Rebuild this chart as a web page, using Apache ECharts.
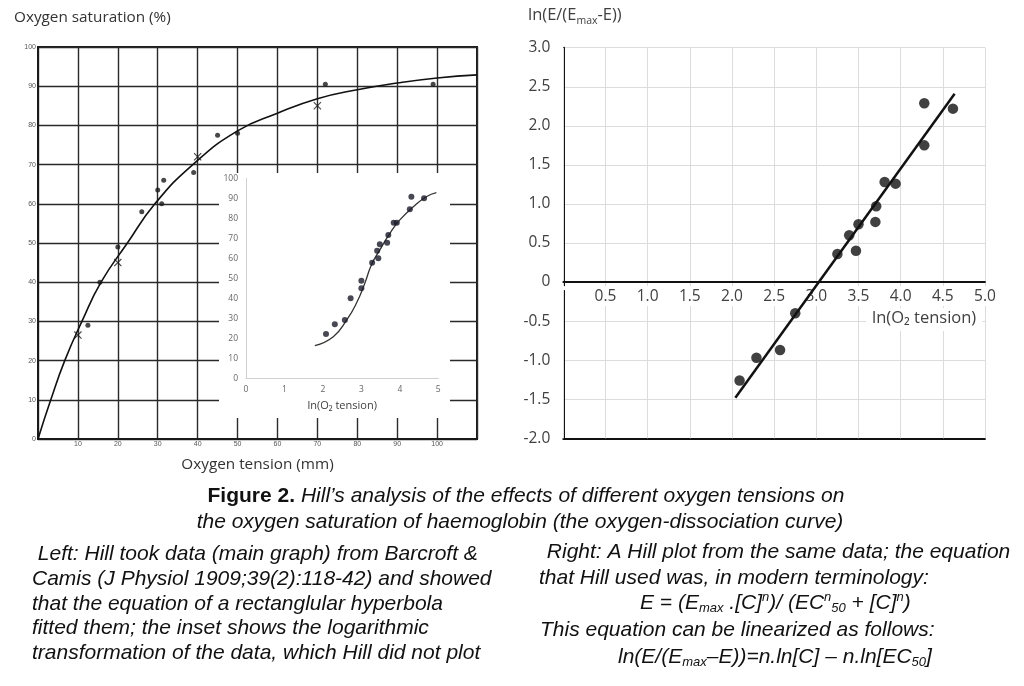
<!DOCTYPE html>
<html><head><meta charset="utf-8">
<script src="https://cdn.jsdelivr.net/npm/echarts@6/dist/echarts.min.js"></script>
<style>html,body{margin:0;padding:0;background:#fff}#c{width:1024px;height:686px}</style>
</head><body><div id="c"></div><script>
// ---- Left main graph (Barcroft & Camis data) ----
const mainDotX=[12.5,15.5,20,26,30,31,31.5,39,45,50,72,99];
const mainDotY=[29,40,49,58,63.5,60,66,68,77.5,78,90.5,90.5];
const mainCrossX=[10,20,40,70];
const mainCrossY=[26.5,45,72,85];
const curveX=[0,3.2,6.7,11,15.8,22.4,29.3,38.8,50,60,70,80,90,100,110];
const curveY=[0,10,20,30,40,50,60,70,78.6,83.1,86.8,89.1,90.8,92.1,92.9];
// ---- Inset (log transform) ----
const insetX=[2.08,2.31,2.57,2.72,3.0,3.0,3.28,3.44,3.41,3.48,3.67,3.70,3.84,3.92,4.26,4.30,4.63];
const insetY=[22.2,27,29.2,40,45,48.8,57.8,60,63.8,67,67.8,71.7,77.8,77.8,84.5,90.8,90];
const insetCurveX=[1.79,2.27,2.62,2.87,3.09,3.26,3.48,3.74,4.0,4.35,4.69,4.95];
const insetCurveY=[16.3,20.8,29.2,37.5,47.5,56.7,64.2,72.5,79.2,85.8,90.8,92.8];
// ---- Right Hill plot ----
const hillX=[2.09,2.29,2.57,2.75,3.25,3.39,3.47,3.50,3.70,3.71,3.81,3.94,4.28,4.28,4.62];
const hillY=[-1.26,-0.97,-0.87,-0.40,0.36,0.60,0.40,0.74,0.77,0.97,1.28,1.26,1.75,2.29,2.22];
const hillLineX=[2.04,4.64];
const hillLineY=[-1.48,2.41];
// ---- Texts ----
const mainYTitle='Oxygen saturation (%)';
const mainXTitle='Oxygen tension (mm)';
const lnTitle='ln(O\u2082 tension)';
const hillYTitle='ln(E/(E{sub|max}-E))';
const captionLines=['{b|Figure 2.} Hill\u2019s analysis of the effects of different oxygen tensions on','the oxygen saturation of haemoglobin (the oxygen-dissociation curve)'];
const leftLines=[' Left: Hill took data (main graph) from Barcroft &','Camis (J Physiol 1909;39(2):118-42) and showed','that the equation of a rectanglular hyperbola','fitted them; the inset shows the logarithmic','transformation of the data, which Hill did not plot'];
const rightLines=[' Right: A Hill plot from the same data; the equation','that Hill used was, in modern terminology:','E = (E{sub|max} .[C]{sup|n})/ (EC{sup|n}{sub|50} + [C]{sup|n})','This equation can be linearized as follows:','ln(E/(E{sub|max}\u2013E))=n.ln[C] \u2013 n.ln[EC{sub|50}]'];

const zip=(a,b)=>a.map((v,i)=>[v,b[i]]);
const CF='"Open Sans", sans-serif';
const AF='"Liberation Sans", Arial, sans-serif';
const crossPath='path://M0,1L1,0L5,4L9,0L10,1L6,5L10,9L9,10L5,6L1,10L0,9L4,5Z';

const chart=echarts.init(document.getElementById('c'),null,{renderer:'canvas'});
const capStyle={fontFamily:AF,fontStyle:'italic',fontSize:21,fill:'#111'};
const subRich={sub:{fontSize:13,verticalAlign:'bottom',fontFamily:AF,fontStyle:'italic',padding:[11,0,0,0]},sup:{fontSize:13,verticalAlign:'top',fontFamily:AF,fontStyle:'italic',padding:[0,0,9,0]}};
const graphics=[
 {type:'rect',z:1,shape:{x:219,y:173,width:231,height:245},style:{fill:'#fff'}},
 {type:'text',left:14,top:10,style:{text:mainYTitle,fontFamily:CF,fontSize:15.3,fill:'#333'}},
 {type:'text',left:528,top:7,style:{text:hillYTitle,fontFamily:CF,fontSize:16.5,fill:'#404040',rich:{sub:{fontSize:10.5,fontFamily:CF,color:'#404040',verticalAlign:'bottom',padding:[11,0,0,0]}}}},
 {type:'text',z:5,left:866,top:308,style:{text:lnTitle,fontFamily:CF,fontSize:16.5,fill:'#404040',backgroundColor:'#fff',padding:[2,6,4,6]}},
];
const capX=[526,520], capY=[496,522];
captionLines.forEach((t,i)=>graphics.push({type:'text',x:capX[i],y:capY[i],style:Object.assign({},capStyle,{text:t,align:'center',verticalAlign:'middle',rich:{b:{fontFamily:AF,fontWeight:'bold',fontStyle:'normal',fontSize:21}}})}));
const leftY=[554,579,604,628,653];
leftLines.forEach((t,i)=>graphics.push({type:'text',x:32,y:leftY[i],style:Object.assign({},capStyle,{text:t,verticalAlign:'middle'})}));
const rightX=[541,539,640,540,618];
const rightY=[552,578,603,630,657];
rightLines.forEach((t,i)=>graphics.push({type:'text',x:rightX[i],y:rightY[i],style:Object.assign({},capStyle,{text:t,verticalAlign:'middle',rich:subRich})}));

const lightAxis={show:true,lineStyle:{color:'#d0d0d0',width:1}};
const option={
 animation:false,
 backgroundColor:'#fff',
 grid:[
  {left:38,top:47,width:439,height:392,show:true,borderColor:'#1a1a1a',borderWidth:2,backgroundColor:'transparent'},
  {left:246,top:178.3,width:192.3,height:200},
  {left:563.3,top:47.7,width:421.7,height:390.6}
 ],
 xAxis:[
  {gridIndex:0,type:'value',min:0,max:110,interval:10,
   axisLine:{show:true,lineStyle:{color:'#1a1a1a',width:2}},axisTick:{show:false},
   splitLine:{show:true,lineStyle:{color:'#2a2a2a',width:1.4}},
   axisLabel:{fontSize:7,color:'#555',margin:2,formatter:v=>(v===0||v===110)?'':String(v)},
   name:mainXTitle,nameLocation:'middle',nameGap:18,nameTextStyle:{fontFamily:CF,fontSize:15.3,color:'#333'}},
  {gridIndex:1,type:'value',min:0,max:5,interval:1,z:3,
   axisLine:lightAxis,axisTick:{show:false},splitLine:{show:false},
   axisLabel:{fontSize:8.5,color:'#666',margin:7,fontFamily:CF},
   name:lnTitle,nameLocation:'middle',nameGap:22,nameTextStyle:{fontFamily:CF,fontSize:11,color:'#404040'}},
  {gridIndex:2,type:'value',min:0,max:5,interval:0.5,position:'bottom',offset:-156.2,z:3,
   axisLine:{show:true,onZero:false,lineStyle:{color:'#111',width:1.8}},axisTick:{show:false},
   splitLine:{show:true,lineStyle:{color:'#dcdcdc',width:1}},
   axisLabel:{fontSize:15.5,color:'#404040',fontFamily:CF,margin:4,backgroundColor:'#fff',padding:[2,3,2,3],
     formatter:v=>v===0?'':v.toFixed(1)}},
  {gridIndex:2,type:'value',min:0,max:5,interval:0.5,position:'bottom',z:2,
   axisLine:{show:true,onZero:false,lineStyle:{color:'#111',width:2}},axisTick:{show:false},
   splitLine:{show:false},axisLabel:{show:false}}
 ],
 yAxis:[
  {gridIndex:0,type:'value',min:0,max:100,interval:10,
   axisLine:{show:true,lineStyle:{color:'#1a1a1a',width:2}},axisTick:{show:false},
   splitLine:{show:true,lineStyle:{color:'#2a2a2a',width:1.4}},
   axisLabel:{fontSize:7,color:'#555',margin:2}},
  {gridIndex:1,type:'value',min:0,max:100,interval:10,z:3,
   axisLine:lightAxis,axisTick:{show:false},splitLine:{show:false},
   axisLabel:{fontSize:8.5,color:'#666',margin:8,fontFamily:CF}},
  {gridIndex:2,type:'value',min:-2,max:3,interval:0.5,
   axisLine:{show:true,onZero:false,lineStyle:{color:'#111',width:2}},axisTick:{show:false},
   splitLine:{show:true,lineStyle:{color:'#dcdcdc',width:1}},
   axisLabel:{fontSize:15.5,color:'#404040',fontFamily:CF,margin:13,formatter:v=>v===0?'0':v.toFixed(1)}}
 ],
 series:[
  {type:'line',xAxisIndex:0,yAxisIndex:0,data:zip(curveX,curveY),smooth:0.5,showSymbol:false,lineStyle:{color:'#111',width:1.6}},
  {type:'scatter',xAxisIndex:0,yAxisIndex:0,data:zip(mainDotX,mainDotY),symbol:'circle',symbolSize:5,itemStyle:{color:'#1a1a1a'}},
  {type:'scatter',xAxisIndex:0,yAxisIndex:0,data:zip(mainCrossX,mainCrossY),symbol:crossPath,symbolSize:8,itemStyle:{color:'#1a1a1a'}},
  {type:'line',xAxisIndex:1,yAxisIndex:1,z:4,data:zip(insetCurveX,insetCurveY),smooth:0.5,showSymbol:false,lineStyle:{color:'#333',width:1.3}},
  {type:'scatter',xAxisIndex:1,yAxisIndex:1,z:5,data:zip(insetX,insetY),symbol:'circle',symbolSize:6,itemStyle:{color:'#1a1a2a'}},
  {type:'line',xAxisIndex:2,yAxisIndex:2,z:4,data:zip(hillLineX,hillLineY),showSymbol:false,lineStyle:{color:'#111',width:2.5}},
  {type:'scatter',xAxisIndex:2,yAxisIndex:2,z:5,data:zip(hillX,hillY),symbol:'circle',symbolSize:10.5,itemStyle:{color:'#111'}}
 ],
 graphic:graphics
};
chart.setOption(option);
</script></body></html>
